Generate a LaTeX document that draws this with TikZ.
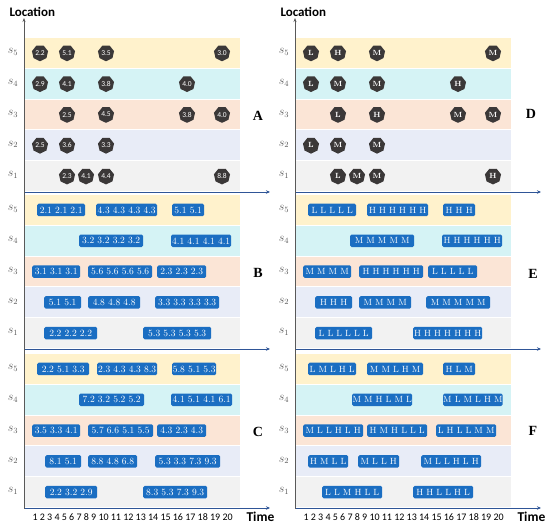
\documentclass[tikz,border=0pt]{standalone}
\usepackage{amsmath}
\usepackage{fontspec}
\usepackage{tikz}
\usetikzlibrary{shapes.geometric}
\usetikzlibrary{arrows.meta}

\newfontfamily\labelfont{Carlito}
\newfontfamily\letterfont{Liberation Serif}

\definecolor{bandy}{HTML}{FFF2CC}
\definecolor{bandc}{HTML}{D5F3F5}
\definecolor{bando}{HTML}{FBE5D6}
\definecolor{bandl}{HTML}{E8ECF7}
\definecolor{bandg}{HTML}{F2F2F2}
\definecolor{markgray}{HTML}{3B3838}
\definecolor{boxblue}{HTML}{1B6EC2}
\definecolor{axisblue}{HTML}{2F5597}
\definecolor{axisgray}{HTML}{595959}

\tikzset{
    obs/.style={regular polygon, regular polygon sides=7, shape border rotate=180,
        fill=markgray, text=white, inner sep=0pt, minimum size=16.5pt,
        font=\labelfont\fontsize{7.5}{7.5}\selectfont},
    obsl/.style={obs, font=\bfseries\fontsize{7.5}{7.5}\selectfont},
    seqbox/.style={rectangle, rounded corners=1.5pt, fill=boxblue, text=white,
        inner sep=0pt, minimum height=12.5pt, anchor=west,
        font=\fontsize{9.5}{9.5}\selectfont},
    seqboxl/.style={seqbox, font=\fontsize{9}{9}\selectfont},
    timeaxis/.style={axisblue, line width=0.8pt, -{Stealth[length=4pt,width=3.5pt]}},
}

\begin{document}
\begin{tikzpicture}[x=1pt,y=-1pt]
    \useasboundingbox (0,0) rectangle (550,526);

    \foreach \sx/\pn in {0/L,271/R} {
        \begin{scope}[xshift=\sx pt]
            \foreach \top in {38,195,354} {
                \foreach \c/\r [count=\k from 0] in {bandy/5,bandc/4,bando/3,bandl/2,bandg/1} {
                    \fill[\c] (25,{\top+30.8*\k}) rectangle (240,{\top+30.8*\k+29.8});
                    \node[text=axisgray, font=\fontsize{11.5}{11.5}\selectfont] (s\pn\top\r)
                        at (13,{\top+30.8*\k+14}) {$s_{\r}$};
                }
                \coordinate (xa\pn\top) at (24,{\top+154});
                \coordinate (xb\pn\top) at (270,{\top+154});
                \draw[timeaxis] (xa\pn\top) -- (xb\pn\top);
            }
            \coordinate (orig\pn) at (24,509);
            \coordinate (ytop\pn) at (24,18);
            \draw[axisgray, line width=1pt, -{Stealth[length=4pt,width=3pt]}] (orig\pn) -- (ytop\pn);
            \node[anchor=west, font=\labelfont\bfseries\fontsize{13}{13}\selectfont] (loc\pn) at (6,12) {Location};
            \node[anchor=west, font=\labelfont\fontsize{10}{10}\selectfont] (ticks\pn) at (29,517)
                {1 2 3 4 5 6 7 8 9 10 11 12 13 14 15 16 17 18 19 20};
            \node[anchor=west, font=\labelfont\bfseries\fontsize{13.5}{13.5}\selectfont] (time\pn) at (243,517) {Time};
        \end{scope}
    }

    \node[font=\letterfont\bfseries\fontsize{14}{14}\selectfont] (pA) at (258,116) {A};
    \node[font=\letterfont\bfseries\fontsize{14}{14}\selectfont] (pB) at (258,273) {B};
    \node[font=\letterfont\bfseries\fontsize{14}{14}\selectfont] (pC) at (258,432) {C};
    \node[font=\letterfont\bfseries\fontsize{14}{14}\selectfont] (pD) at (531,114) {D};
    \node[font=\letterfont\bfseries\fontsize{14}{14}\selectfont] (pE) at (533,274) {E};
    \node[font=\letterfont\bfseries\fontsize{14}{14}\selectfont] (pF) at (533,431) {F};

    % A
    \foreach \x/\r/\v [count=\i] in {40/5/2.2, 67/5/5.1, 106/5/3.5, 222/5/3.0,
            40/4/2.9, 67/4/4.1, 106/4/3.8, 187/4/4.0,
            67/3/2.5, 106/3/4.5, 187/3/3.8, 222/3/4.0,
            40/2/2.5, 67/2/3.6, 106/2/3.3,
            67/1/2.3, 86/1/4.1, 106/1/4.4, 222/1/8.8}
        \node[obs] (a\i) at (\x,{38+30.8*(5-\r)+15}) {\v};

    % D
    \begin{scope}[xshift=271pt]
        \foreach \x/\r/\v [count=\i] in {40/5/L, 67/5/H, 106/5/M, 222/5/M,
                40/4/L, 67/4/M, 106/4/M, 187/4/H,
                67/3/L, 106/3/H, 187/3/M, 222/3/M,
                40/2/L, 67/2/M, 106/2/M,
                67/1/L, 86/1/M, 106/1/M, 222/1/H}
            \node[obsl] (d\i) at (\x,{38+30.8*(5-\r)+15}) {\v};
    \end{scope}

    % B
    \foreach \a/\b/\r/\t [count=\i] in {37/85/5/2.1 2.1 2.1, 96/157/5/4.3 4.3 4.3 4.3, 172/204/5/5.1 5.1,
            79/143/4/3.2 3.2 3.2 3.2, 171/231/4/4.1 4.1 4.1 4.1,
            32/80/3/3.1 3.1 3.1, 88/152/3/5.6 5.6 5.6 5.6, 157/206/3/2.3 2.3 2.3,
            44/81/2/5.1 5.1, 88/140/2/4.8 4.8 4.8, 155/219/2/3.3 3.3 3.3 3.3,
            44/97/1/2.2 2.2 2.2, 143/211/1/5.3 5.3 5.3 5.3}
        \node[seqbox, minimum width={(\b-\a)*1pt}] (b\i) at (\a,{195+30.8*(5-\r)+15}) {\t};

    % E
    \begin{scope}[xshift=271pt]
        \foreach \a/\b/\r/\t [count=\i] in {37/85/5/L L L L L, 96/157/5/H H H H H H, 172/204/5/H H H,
                79/143/4/M M M M M, 171/231/4/H H H H H H,
                32/80/3/M M M M, 88/152/3/H H H H H H, 157/206/3/L L L L L,
                44/81/2/H H H, 88/140/2/M M M M, 155/219/2/M M M M M,
                44/101/1/L L L L L L, 142/211/1/H H H H H H H}
            \node[seqboxl, minimum width={(\b-\a)*1pt}] (e\i) at (\a,{195+30.8*(5-\r)+15}) {\t};
    \end{scope}

    % C
    \foreach \a/\b/\r/\t [count=\i] in {37/89/5/2.2 5.1 3.3, 97/157/5/2.3 4.3 4.3 8.3, 172/216/5/5.8 5.1 5.3,
            79/144/4/7.2 3.2 5.2 5.2, 171/232/4/4.1 5.1 4.1 6.1,
            32/80/3/3.5 3.3 4.1, 88/153/3/5.7 6.6 5.1 5.5, 157/206/3/4.3 2.3 4.3,
            45/81/2/8.1 5.1, 88/137/2/8.8 4.8 6.8, 155/220/2/5.3 3.3 7.3 9.3,
            45/97/1/2.2 3.2 2.9, 143/207/1/8.3 5.3 7.3 9.3}
        \node[seqbox, minimum width={(\b-\a)*1pt}] (c\i) at (\a,{354+30.8*(5-\r)+15}) {\t};

    % F
    \begin{scope}[xshift=271pt]
        \foreach \a/\b/\r/\t [count=\i] in {37/85/5/L M L H L, 96/152/5/M M L H M, 172/204/5/H L M,
                81/141/4/M M H L M L, 172/230/4/M L M L H M,
                32/92/3/M L L H L H, 96/156/3/H M H L L L, 165/225/3/L H L L M M,
                37/77/2/H M L L, 87/128/2/M L L H, 150/210/2/M L L H L H,
                51/111/1/L L M H L L, 142/202/1/H H L L H L}
            \node[seqboxl, minimum width={(\b-\a)*1pt}] (f\i) at (\a,{354+30.8*(5-\r)+15}) {\t};
    \end{scope}
\end{tikzpicture}
\end{document}
